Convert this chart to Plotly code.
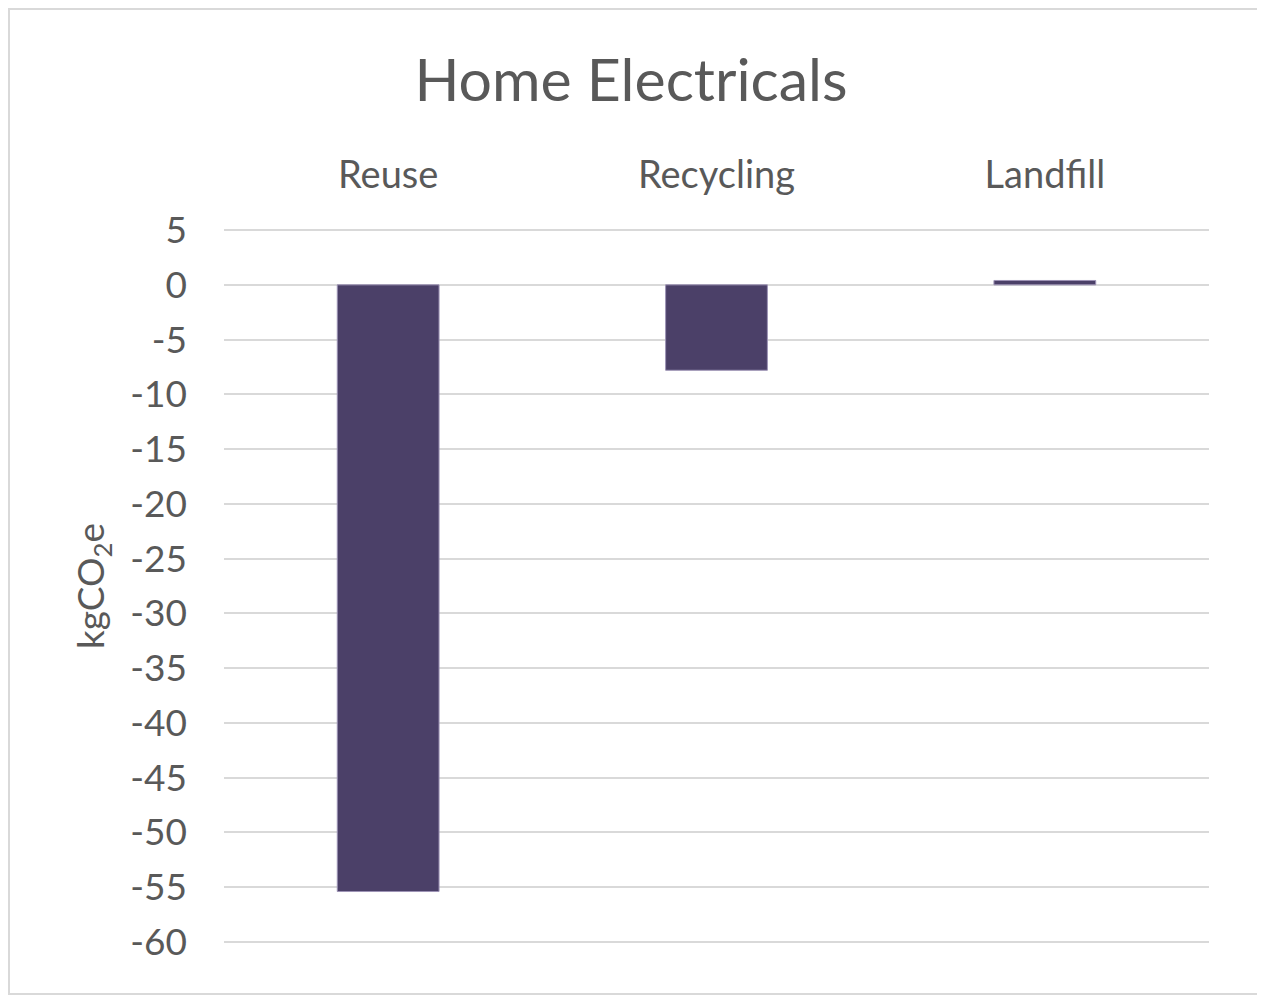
import plotly.graph_objects as go

# Data
categories = ["Reuse", "Recycling", "Landfill"]
emissions = [-55.4, -7.8, 0.4]  # kgCO2e
y_ticks = [5, 0, -5, -10, -15, -20, -25, -30, -35, -40, -45, -50, -55, -60]

text_color = "#595959"
grid_color = "#d9d9d9"
bar_color = "#4b4068"
font_name = "Lato"

fig = go.Figure()
fig.add_bar(
    x=categories,
    y=emissions,
    marker=dict(color=bar_color, line=dict(color="#9d93b5", width=1)),
)

# Chart-area border (the page body adds an 8px margin, sizes allow for it)
fig.add_shape(
    type="rect", xref="paper", yref="paper",
    x0=-0.2183, x1=1.0508, y0=-0.0714, y1=1.3081,
    line=dict(color=grid_color, width=2),
)

fig.update_layout(
    width=1257,
    height=987,
    margin=dict(l=216, r=56, t=221, b=52),
    paper_bgcolor="white",
    plot_bgcolor="white",
    showlegend=False,
    bargap=0.69,
    font=dict(family=font_name, color=text_color, size=37),
    title=dict(
        text="Home Electricals",
        x=0.4956, xanchor="center",
        y=1 - 72 / 987, yanchor="middle", yref="container",
        font=dict(size=59, color=text_color, family=font_name),
    ),
    xaxis=dict(
        side="top",
        showgrid=False,
        showline=False,
        ticks="",
        ticklabelstandoff=32,
        tickfont=dict(size=38, color=text_color),
    ),
    yaxis=dict(
        range=[-60.1, 5.1],
        tickvals=y_ticks,
        ticktext=[str(v) for v in y_ticks],
        showgrid=True,
        gridcolor=grid_color,
        gridwidth=2,
        zeroline=True,
        zerolinecolor=grid_color,
        zerolinewidth=2,
        showline=False,
        ticks="",
        ticklabelstandoff=36,
        tickfont=dict(size=37, color=text_color),
        title=dict(text="kgCO<sub>2</sub>e", standoff=14,
                   font=dict(size=37, color=text_color)),
    ),
)

fig.write_html("out.html")
